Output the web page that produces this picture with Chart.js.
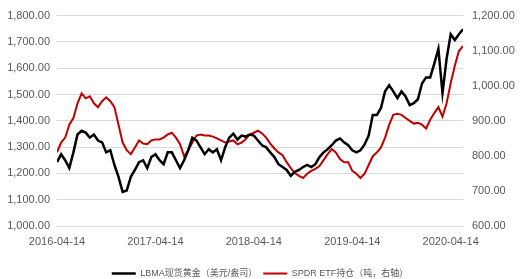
<!DOCTYPE html>
<html lang="zh">
<head>
  <meta charset="UTF-8">
  <title>LBMA现货黄金与SPDR ETF持仓</title>
  <script src="https://cdn.jsdelivr.net/npm/chart.js"></script>
  <style>
    html, body { margin: 0; padding: 0; background: #fff; }
    #wrap { width: 520px; height: 279px; }
  </style>
</head>
<body>
  <div id="wrap"><canvas id="goldChart" width="520" height="279"></canvas></div>

  <script>
    // x轴刻度（半月一个点，每年24个点）
    const tickIndex = [0, 24, 48, 72, 96];
    const tickLabels = ['2016-04-14', '2017-04-14', '2018-04-14', '2019-04-14', '2020-04-14'];

    // LBMA现货黄金（美元/盎司）
    const gold = [
      1243, 1273, 1250, 1220, 1280, 1348, 1362, 1355, 1336, 1348,
      1325, 1318, 1280, 1288, 1232, 1187, 1130, 1135, 1187, 1213,
      1243, 1250, 1220, 1262, 1273, 1250, 1235, 1280, 1280, 1250,
      1220, 1250, 1288, 1336, 1325, 1299, 1273, 1292, 1280, 1292,
      1250, 1299, 1336, 1351, 1329, 1344, 1340, 1348, 1344, 1325,
      1307, 1299, 1280, 1262, 1235, 1224, 1213, 1191, 1206, 1213,
      1224, 1232, 1224, 1235, 1262, 1280, 1292, 1307, 1325, 1333,
      1318, 1307, 1288, 1280, 1288, 1310, 1344, 1422, 1422, 1449,
      1512, 1535, 1512, 1486, 1512, 1493, 1460, 1467, 1482, 1542,
      1565, 1565, 1617, 1673, 1505, 1636, 1729, 1707, 1729, 1748
    ];

    // SPDR ETF持仓（吨，右轴）
    const spdr = [
      810, 838, 852, 889, 908, 950, 978, 964, 970, 950,
      939, 956, 967, 956, 939, 889, 838, 816, 805, 824,
      844, 835, 833, 844, 847, 847, 852, 861, 866, 852,
      833, 799, 816, 838, 858, 861, 858, 858, 855, 850,
      844, 838, 841, 844, 833, 838, 847, 861, 866, 872,
      864, 852, 835, 821, 810, 802, 782, 765, 751, 743,
      737, 749, 757, 763, 771, 788, 805, 819, 810, 791,
      782, 782, 757, 749, 737, 749, 774, 799, 810, 824,
      852, 889, 917, 920, 917, 908, 900, 892, 894, 889,
      878, 903, 922, 939, 912, 950, 1007, 1057, 1099, 1113
    ];

    const toPoints = arr => arr.map((v, i) => ({ x: i, y: v }));
    const fmt = v => v.toLocaleString('en-US', { minimumFractionDigits: 2, maximumFractionDigits: 2 });

    const tickFont = { family: '"Liberation Sans", "Noto Sans CJK SC", sans-serif', size: 11 };

    const ctx = document.getElementById('goldChart').getContext('2d');
    new Chart(ctx, {
      type: 'line',
      data: {
        datasets: [{
          label: 'LBMA现货黄金（美元/盎司）',
          data: toPoints(gold),
          borderColor: '#000000',
          backgroundColor: '#000000',
          borderWidth: 2.5,
          pointRadius: 0,
          tension: 0,
          yAxisID: 'y'
        }, {
          label: 'SPDR ETF持仓（吨，右轴）',
          data: toPoints(spdr),
          borderColor: '#c00000',
          backgroundColor: '#c00000',
          borderWidth: 2,
          pointRadius: 0,
          tension: 0,
          yAxisID: 'y2'
        }]
      },
      options: {
        responsive: false,
        animation: false,
        // 底部留白为负，让图例贴近画布下沿
        layout: { padding: { top: 11, left: 0, right: 0, bottom: -9 } },
        plugins: {
          tooltip: { enabled: false },
          legend: {
            position: 'bottom',
            labels: {
              usePointStyle: true,
              pointStyle: 'line',
              pointStyleWidth: 24,
              padding: 6,
              color: '#595959',
              font: { family: '"Liberation Sans", "Noto Sans CJK SC", sans-serif', size: 9 }
            }
          }
        },
        scales: {
          x: {
            type: 'linear',
            min: 0,
            max: gold.length - 1,
            grid: { display: false, drawTicks: false },
            border: { display: false },
            afterBuildTicks: axis => { axis.ticks = tickIndex.map(v => ({ value: v })); },
            afterFit: axis => { axis.height = 37; },
            ticks: {
              padding: 9,
              maxRotation: 0,
              autoSkip: false,
              color: '#595959',
              font: tickFont,
              callback: v => tickLabels[tickIndex.indexOf(v)] || ''
            }
          },
          y: {
            position: 'left',
            min: 1000,
            max: 1800,
            afterFit: axis => { axis.width = 57; },
            grid: { color: '#d9d9d9', lineWidth: 1, drawTicks: false },
            border: { display: false },
            ticks: { stepSize: 100, padding: 7, color: '#595959', font: tickFont, callback: fmt }
          },
          y2: {
            position: 'right',
            min: 600,
            max: 1200,
            afterFit: axis => { axis.width = 57; },
            grid: { display: false, drawTicks: false },
            border: { display: false },
            ticks: { stepSize: 100, padding: 9, color: '#595959', font: tickFont, callback: fmt }
          }
        }
      }
    });
  </script>
</body>
</html>
